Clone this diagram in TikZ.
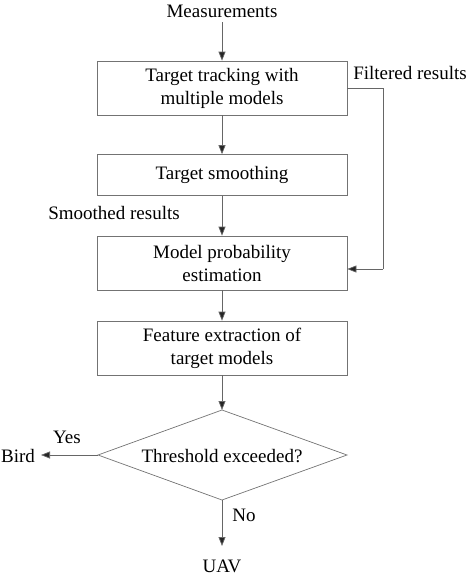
\documentclass[tikz,border=0pt]{standalone}
\usepackage{fontspec}
\setmainfont{Liberation Serif}
\usetikzlibrary{arrows.meta}
\tikzset{
  txt/.style={font=\fontsize{19}{23}\selectfont},
  stepbox/.style={txt, draw=black!55, line width=0.7pt, minimum width=250pt, minimum height=#1, align=center, inner sep=0pt},
  stepbox/.default=54pt,
  lbl/.style={txt, inner sep=0pt},
  conn/.style={draw=black!60, line width=0.7pt, -{Triangle[length=9pt,width=7pt,fill=black!85]}},
  plain/.style={draw=black!60, line width=0.7pt},
}
\begin{document}
\begin{tikzpicture}[x=1pt,y=-1pt]
\useasboundingbox (0,0) rectangle (469,576);
\node[lbl] (meas) at (222,11) {Measurements};
\node[stepbox] (b1) at (222,88) {Target tracking with\\multiple models};
\node[stepbox=41pt] (b2) at (222,175) {Target smoothing};
\node[stepbox] (b3) at (222,263) {Model probability\\estimation};
\node[stepbox] (b4) at (222,348) {Feature extraction of\\target models};
\coordinate (dn) at (222,410);
\coordinate (ds) at (222,500);
\coordinate (dw) at (98,455);
\coordinate (de) at (347,455);
\draw[draw=black!55, line width=0.7pt] (dn) -- (de) -- (ds) -- (dw) -- cycle;
\node[lbl] (d) at (222,456) {Threshold exceeded?};
\node[lbl] (bird) at (18,456) {Bird};
\node[lbl] (uav) at (222,566) {UAV};
\node[lbl] (filt) at (410,73) {Filtered results};
\node[lbl] (smooth) at (114,213) {Smoothed results};
\node[lbl] (yes) at (67,437) {Yes};
\node[lbl] (no) at (244,515) {No};
\coordinate (fb1) at (383,88);
\coordinate (fb2) at (383,269);
\coordinate (mtop) at (222,22);
\coordinate (birdtip) at (41,455);
\coordinate (uavtip) at (222,546);
\draw[conn] (mtop) -- (b1.north);
\draw[conn] (b1) -- (b2);
\draw[conn] (b2) -- (b3);
\draw[conn] (b3) -- (b4);
\draw[conn] (b4) -- (dn);
\draw[plain] (b1.east |- fb1) -- (fb1) -- (fb2);
\draw[conn] (fb2) -- (b3.east |- fb2);
\draw[conn] (dw) -- (birdtip);
\draw[conn] (ds) -- (uavtip);
\end{tikzpicture}
\end{document}
